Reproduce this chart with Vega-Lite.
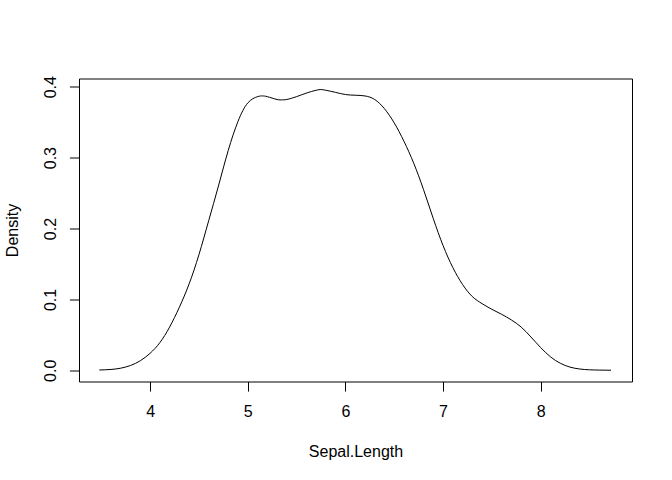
{
  "$schema": "https://vega.github.io/schema/vega-lite/v6.json",
  "width": 553,
  "height": 303,
  "autosize": {"type": "none"},
  "padding": {"left": 79, "top": 78.5, "right": 40, "bottom": 98.5},
  "background": "white",
  "config": {
    "view": {"stroke": "black", "strokeWidth": 1},
    "font": "Liberation Sans"
  },
  "data": {
    "values": [
      {"x": 3.48, "density": 0.0004},
      {"x": 3.6, "density": 0.0012},
      {"x": 3.7, "density": 0.003},
      {"x": 3.8, "density": 0.0068},
      {"x": 3.9, "density": 0.0135},
      {"x": 4.0, "density": 0.024},
      {"x": 4.1, "density": 0.039},
      {"x": 4.2, "density": 0.061},
      {"x": 4.3, "density": 0.089},
      {"x": 4.4, "density": 0.122},
      {"x": 4.5, "density": 0.163},
      {"x": 4.6, "density": 0.211},
      {"x": 4.7, "density": 0.26},
      {"x": 4.8, "density": 0.31},
      {"x": 4.9, "density": 0.351},
      {"x": 5.0, "density": 0.377},
      {"x": 5.1, "density": 0.386},
      {"x": 5.15, "density": 0.387},
      {"x": 5.2, "density": 0.386},
      {"x": 5.3, "density": 0.382},
      {"x": 5.35, "density": 0.3815},
      {"x": 5.4, "density": 0.382},
      {"x": 5.5, "density": 0.386},
      {"x": 5.6, "density": 0.391},
      {"x": 5.7, "density": 0.395},
      {"x": 5.75, "density": 0.396},
      {"x": 5.8, "density": 0.395},
      {"x": 5.9, "density": 0.392},
      {"x": 6.0, "density": 0.389},
      {"x": 6.1, "density": 0.388},
      {"x": 6.2, "density": 0.387},
      {"x": 6.3, "density": 0.382},
      {"x": 6.4, "density": 0.369},
      {"x": 6.5, "density": 0.349},
      {"x": 6.6, "density": 0.323},
      {"x": 6.7, "density": 0.292},
      {"x": 6.8, "density": 0.255},
      {"x": 6.9, "density": 0.214},
      {"x": 7.0, "density": 0.176},
      {"x": 7.1, "density": 0.145},
      {"x": 7.2, "density": 0.121},
      {"x": 7.3, "density": 0.104},
      {"x": 7.4, "density": 0.094},
      {"x": 7.5, "density": 0.086},
      {"x": 7.6, "density": 0.079},
      {"x": 7.7, "density": 0.071},
      {"x": 7.8, "density": 0.061},
      {"x": 7.9, "density": 0.047},
      {"x": 8.0, "density": 0.032},
      {"x": 8.1, "density": 0.019},
      {"x": 8.2, "density": 0.01},
      {"x": 8.3, "density": 0.0045},
      {"x": 8.4, "density": 0.0018},
      {"x": 8.5, "density": 0.0007},
      {"x": 8.6, "density": 0.0003},
      {"x": 8.72, "density": 0.0001}
    ]
  },
  "mark": {"type": "line", "color": "black", "strokeWidth": 1, "interpolate": "natural"},
  "encoding": {
    "x": {
      "field": "x",
      "type": "quantitative",
      "scale": {"domain": [3.272, 8.935], "nice": false, "zero": false},
      "axis": {
        "values": [4, 5, 6, 7, 8],
        "format": "d",
        "domain": false,
        "grid": false,
        "ticks": true,
        "tickSize": 9.6,
        "tickColor": "black",
        "tickWidth": 1,
        "labelFont": "Liberation Sans",
        "labelFontSize": 16,
        "labelColor": "black",
        "labelBaseline": "alphabetic",
        "labelPadding": 25.6,
        "labelFlush": false,
        "labelOverlap": false,
        "title": "Sepal.Length",
        "titleFont": "Liberation Sans",
        "titleFontSize": 16,
        "titleFontWeight": "normal",
        "titleColor": "black",
        "titleBaseline": "alphabetic",
        "titleAnchor": "middle",
        "titleX": 276.5,
        "titleY": 75.2
      }
    },
    "y": {
      "field": "density",
      "type": "quantitative",
      "scale": {"domain": [-0.0158, 0.4116], "nice": false, "zero": false},
      "axis": {
        "values": [0, 0.1, 0.2, 0.3, 0.4],
        "format": ".1f",
        "domain": false,
        "grid": false,
        "ticks": true,
        "tickSize": 9.6,
        "tickColor": "black",
        "tickWidth": 1,
        "labelFont": "Liberation Sans",
        "labelFontSize": 16,
        "labelColor": "black",
        "labelAngle": -90,
        "labelAlign": "center",
        "labelBaseline": "alphabetic",
        "labelPadding": 13.8,
        "labelFlush": false,
        "labelOverlap": false,
        "title": "Density",
        "titleFont": "Liberation Sans",
        "titleFontSize": 16,
        "titleFontWeight": "normal",
        "titleColor": "black",
        "titleAngle": -90,
        "titleBaseline": "alphabetic",
        "titleAlign": "center",
        "titleX": -61.3,
        "titleY": 151.5
      }
    }
  }
}
